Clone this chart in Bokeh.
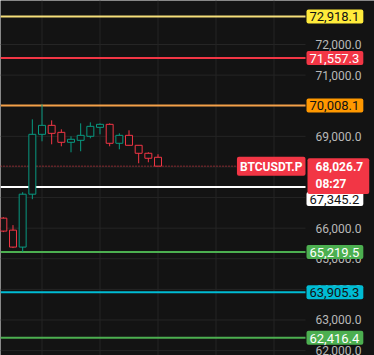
from bokeh.plotting import figure
from bokeh.models import Range1d, Label, ColumnDataSource
from bokeh.core.properties import value
from bokeh.embed import file_html
from bokeh.resources import INLINE

# ---- data ----
idx = list(range(17))
opens = [66328, 65936, 65382, 67110, 69066, 69359, 69131, 68805, 68870, 69001, 69294, 69392, 68773, 69033, 68707, 68447, 68316]
highs = [66360, 66099, 67175, 69555, 70044, 69522, 69229, 69001, 69425, 69457, 69425, 69425, 69098, 69196, 68707, 68479, 68414]
lows = [65871, 65350, 65225, 66947, 68838, 68740, 68675, 68479, 68512, 68936, 69066, 68675, 68577, 68707, 68120, 68153, 68027]
closes = [65904, 65382, 67110, 69066, 69359, 69098, 68805, 68903, 69033, 69327, 69392, 68773, 69033, 68707, 68447, 68284, 68026.7]

level_prices = [72918.1, 71557.3, 70008.1, 67345.2, 65219.5, 63905.3, 62416.4]
level_line_colors = ["#f5df7a", "#f23645", "#f4a048", "#ffffff", "#4caf50", "#00bcd4", "#4caf50"]
level_tag_colors = ["#ffeb3b", "#f23645", "#ff9800", "#ffffff", "#4caf50", "#00bcd4", "#4caf50"]
level_text_colors = ["#131313", "#ffffff", "#131313", "#131313", "#ffffff", "#131313", "#ffffff"]
level_offsets = [0, 0, 0, -12, 0, 0, 0]

last_price = 68026.7
symbol = "BTCUSDT.P"
countdown = "08:27"

y_ticks = [62000, 63000, 64000, 65000, 66000, 67000, 68000, 69000, 70000, 71000, 72000]
y_tick_labels = [f"{t:,.1f}" for t in y_ticks]
x_grid_ticks = [4, 10, 16, 22, 28]

# ---- style / layout ----
UP = "#089981"
DOWN = "#f23645"
BG = "#131313"
GRID = "#252525"
FONT = "Roboto"
W, H = 374, 355
PX_PER_BAR = 9.667
X_START = -0.293
PANE_PX = 305      # right edge of the price pane
AXIS_PX = 315      # left edge of price-scale labels
Y_LO, Y_HI = 61840, 73438


def px_to_x(px):
    return X_START + px / PX_PER_BAR


x_end = px_to_x(W)
pane_x = px_to_x(PANE_PX)
axis_x = px_to_x(AXIS_PX)

colors = [UP if c >= o else DOWN for o, c in zip(opens, closes)]
src = ColumnDataSource(dict(
    x=idx, open=opens, high=highs, low=lows, close=closes,
    top=[max(o, c) for o, c in zip(opens, closes)],
    bottom=[min(o, c) for o, c in zip(opens, closes)],
    color=colors,
))

p = figure(width=W, height=H, output_backend="svg", toolbar_location=None,
           x_range=Range1d(X_START, x_end), y_range=Range1d(Y_LO, Y_HI),
           x_axis_location=None, y_axis_location=None,
           min_border_left=0, min_border_top=0, min_border_bottom=0, min_border_right=0,
           background_fill_color=BG, border_fill_color=BG, outline_line_color=None)
p.grid.visible = False

# grid lines (price pane only)
p.segment(x0=[X_START] * len(y_ticks), x1=[pane_x] * len(y_ticks), y0=y_ticks, y1=y_ticks,
          line_color=GRID, line_width=1)
p.segment(x0=x_grid_ticks, x1=x_grid_ticks, y0=[Y_LO] * len(x_grid_ticks), y1=[Y_HI] * len(x_grid_ticks),
          line_color=GRID, line_width=1)

# price scale labels
p.text(x=[axis_x] * len(y_ticks), y=y_ticks, text=y_tick_labels,
       text_align="left", text_baseline="middle", text_color="#b8b8b8",
       text_font=value(FONT), text_font_size="12px")

# level lines
n = len(level_prices)
p.segment(x0=[X_START] * n, x1=[pane_x] * n, y0=level_prices, y1=level_prices,
          line_color=level_line_colors, line_width=2)
# last price dotted line
p.segment(x0=[X_START], x1=[pane_x], y0=[last_price], y1=[last_price],
          line_color=DOWN, line_width=1, line_dash="1 2")

# candles (hollow)
p.segment(x0="x", y0="high", x1="x", y1="low", source=src, line_color="color", line_width=1)
p.vbar(x="x", top="top", bottom="bottom", width=0.72, source=src,
       fill_color=BG, line_color="color", line_width=1)

# level tags
for price, tc, txc, off in zip(level_prices, level_tag_colors, level_text_colors, level_offsets):
    p.add_layout(Label(x=PANE_PX + 1, y=price, x_units="screen", y_units="data", y_offset=off,
                       text=f"{price:,.1f}", text_align="left", text_baseline="middle",
                       text_color=txc, text_font=FONT, text_font_size="13px",
                       background_fill_color=tc, border_line_color=None,
                       padding=dict(left=3, right=4, top=3, bottom=2), border_radius=2))

# last price tag
p.add_layout(Label(x=PANE_PX + 2, y=last_price, x_units="screen", y_units="data", y_offset=8,
                   text=f"{last_price:,.1f}\n{countdown}", text_align="left", text_baseline="top",
                   text_color="#ffffff", text_font=FONT, text_font_size="12px", text_font_style="bold",
                   background_fill_color=DOWN, border_line_color=None,
                   padding=dict(left=8, right=6, top=2, bottom=3), border_radius=2))
p.add_layout(Label(x=PANE_PX, y=last_price, x_units="screen", y_units="data",
                   text=symbol, text_align="right", text_baseline="middle",
                   text_color="#ffffff", text_font=FONT, text_font_size="12px", text_font_style="bold",
                   background_fill_color=DOWN, border_line_color=None,
                   padding=dict(left=3, right=3, top=3, bottom=2), border_radius=2))

open("out.html", "w").write(file_html(p, INLINE))
